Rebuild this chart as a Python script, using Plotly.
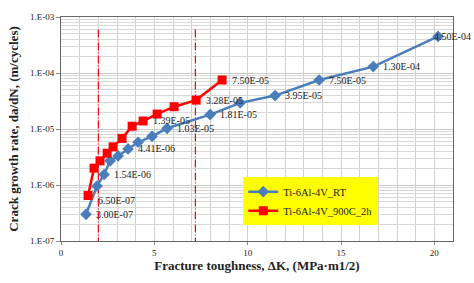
import math
import plotly.graph_objects as go

# ---- data ----
rt_x = [1.34, 1.93, 2.31, 2.63, 3.06, 3.59, 4.13, 4.88, 5.68, 7.99, 9.6, 11.47, 13.83, 16.73, 20.2]
rt_y = [3.0e-7, 9.6e-7, 1.54e-6, 2.7e-6, 3.3e-6, 4.41e-6, 5.8e-6, 7.4e-6, 1.03e-5, 1.81e-5,
        2.93e-5, 3.95e-5, 7.5e-5, 1.3e-4, 4.5e-4]
rt_labels = ["3.00E-07", "", "1.54E-06", "", "", "4.41E-06", "", "", "1.03E-05", "1.81E-05",
             "", "3.95E-05", "7.50E-05", "1.30E-04", "4.50E-04"]

ht_x = [1.45, 1.77, 2.09, 2.47, 2.79, 3.27, 3.81, 4.4, 5.15, 6.06, 7.24, 8.63]
ht_y = [6.5e-7, 2.0e-6, 2.7e-6, 3.7e-6, 4.8e-6, 6.8e-6, 1.12e-5, 1.39e-5, 1.85e-5, 2.5e-5,
        3.28e-5, 7.5e-5]
ht_labels = ["6.50E-07", "", "", "", "", "", "", "1.39E-05", "", "", "3.28E-05", "7.50E-05"]

ref_lines_x = [2.0, 7.2]
ref_line_y = [6e-4, 1e-7]

y_tickvals = [1e-7, 1e-6, 1e-5, 1e-4, 1e-3]
y_ticktext = ["1.E-07", "1.E-06", "1.E-05", "1.E-04", "1.E-03"]
x_tickvals = [0, 5, 10, 15, 20]

series_names = ["Ti-6Al-4V_RT", "Ti-6Al-4V_900C_2h"]

BLUE = "#4A7EBB"
RED = "#FF0000"
FONT = "Liberation Serif, Times New Roman, serif"

fig = go.Figure()

for xv in ref_lines_x:
    fig.add_trace(go.Scatter(x=[xv, xv], y=ref_line_y, mode="lines",
                             line=dict(color=RED, width=1.2, dash="8px,2px,1px,2px"),
                             showlegend=False, hoverinfo="skip"))

fig.add_trace(go.Scatter(x=rt_x, y=rt_y, mode="lines+markers", name=series_names[0],
                         line=dict(color=BLUE, width=2.5),
                         marker=dict(symbol="diamond", size=9, color=BLUE)))
fig.add_trace(go.Scatter(x=ht_x, y=ht_y, mode="lines+markers", name=series_names[1],
                         line=dict(color=RED, width=2.5),
                         marker=dict(symbol="square", size=9, color=RED)))

# label offsets (style, not data)
special_shift = {("ht", 0): (8, -5), ("rt", 14): (-6, 0)}
annos = []
for key, xs, ys, labs in (("rt", rt_x, rt_y, rt_labels), ("ht", ht_x, ht_y, ht_labels)):
    for i, (xv, yv, lab) in enumerate(zip(xs, ys, labs)):
        if not lab:
            continue
        dx, dy = special_shift.get((key, i), (8, 0))
        annos.append(dict(x=xv, y=math.log10(yv), text=lab, showarrow=False,
                          xanchor="left", yanchor="middle", xshift=dx, yshift=dy,
                          font=dict(family=FONT, size=10, color="#222")))

fig.update_layout(
    width=474, height=283,
    margin=dict(l=61, r=21, t=12, b=31),
    paper_bgcolor="white", plot_bgcolor="white",
    font=dict(family=FONT, color="#222"),
    annotations=annos,
    legend=dict(x=0.465, y=0.285, xanchor="left", yanchor="top",
                bgcolor="#FFFF00", font=dict(family=FONT, size=10.5, color="#222"),
                borderwidth=0, tracegroupgap=0, itemwidth=30),
    xaxis=dict(range=[0, 21], tickmode="array", tickvals=x_tickvals,
               ticks="outside", ticklen=3, tickcolor="#888",
               tickfont=dict(family=FONT, size=9),
               showgrid=True, gridcolor="#d0d0d0", gridwidth=1,
               minor=dict(dtick=1, showgrid=True, gridcolor="#d0d0d0", ticks=""),
               showline=True, linecolor="#666", mirror=True, zeroline=False,
               title=dict(text="<b>Fracture toughness, ΔK, (MPa·m1/2)</b>",
                          font=dict(family=FONT, size=13), standoff=4)),
    yaxis=dict(type="log", range=[-7, -3], tickmode="array", tickvals=y_tickvals,
               ticktext=y_ticktext, ticks="outside", ticklen=4, tickcolor="#888",
               tickfont=dict(family=FONT, size=9),
               showgrid=True, gridcolor="#c8c8c8", gridwidth=1,
               minor=dict(tickmode="array",
                          tickvals=[m * 10 ** e for e in range(-7, -3) for m in range(2, 10)],
                          showgrid=True, gridcolor="#d8d8d8", ticks=""),
               showline=True, linecolor="#666", mirror=True, zeroline=False,
               title=dict(text="<b>Crack growth rate, da/dN, (m/cycles)</b>",
                          font=dict(family=FONT, size=13), standoff=8)),
)

fig.write_html("out.html")
